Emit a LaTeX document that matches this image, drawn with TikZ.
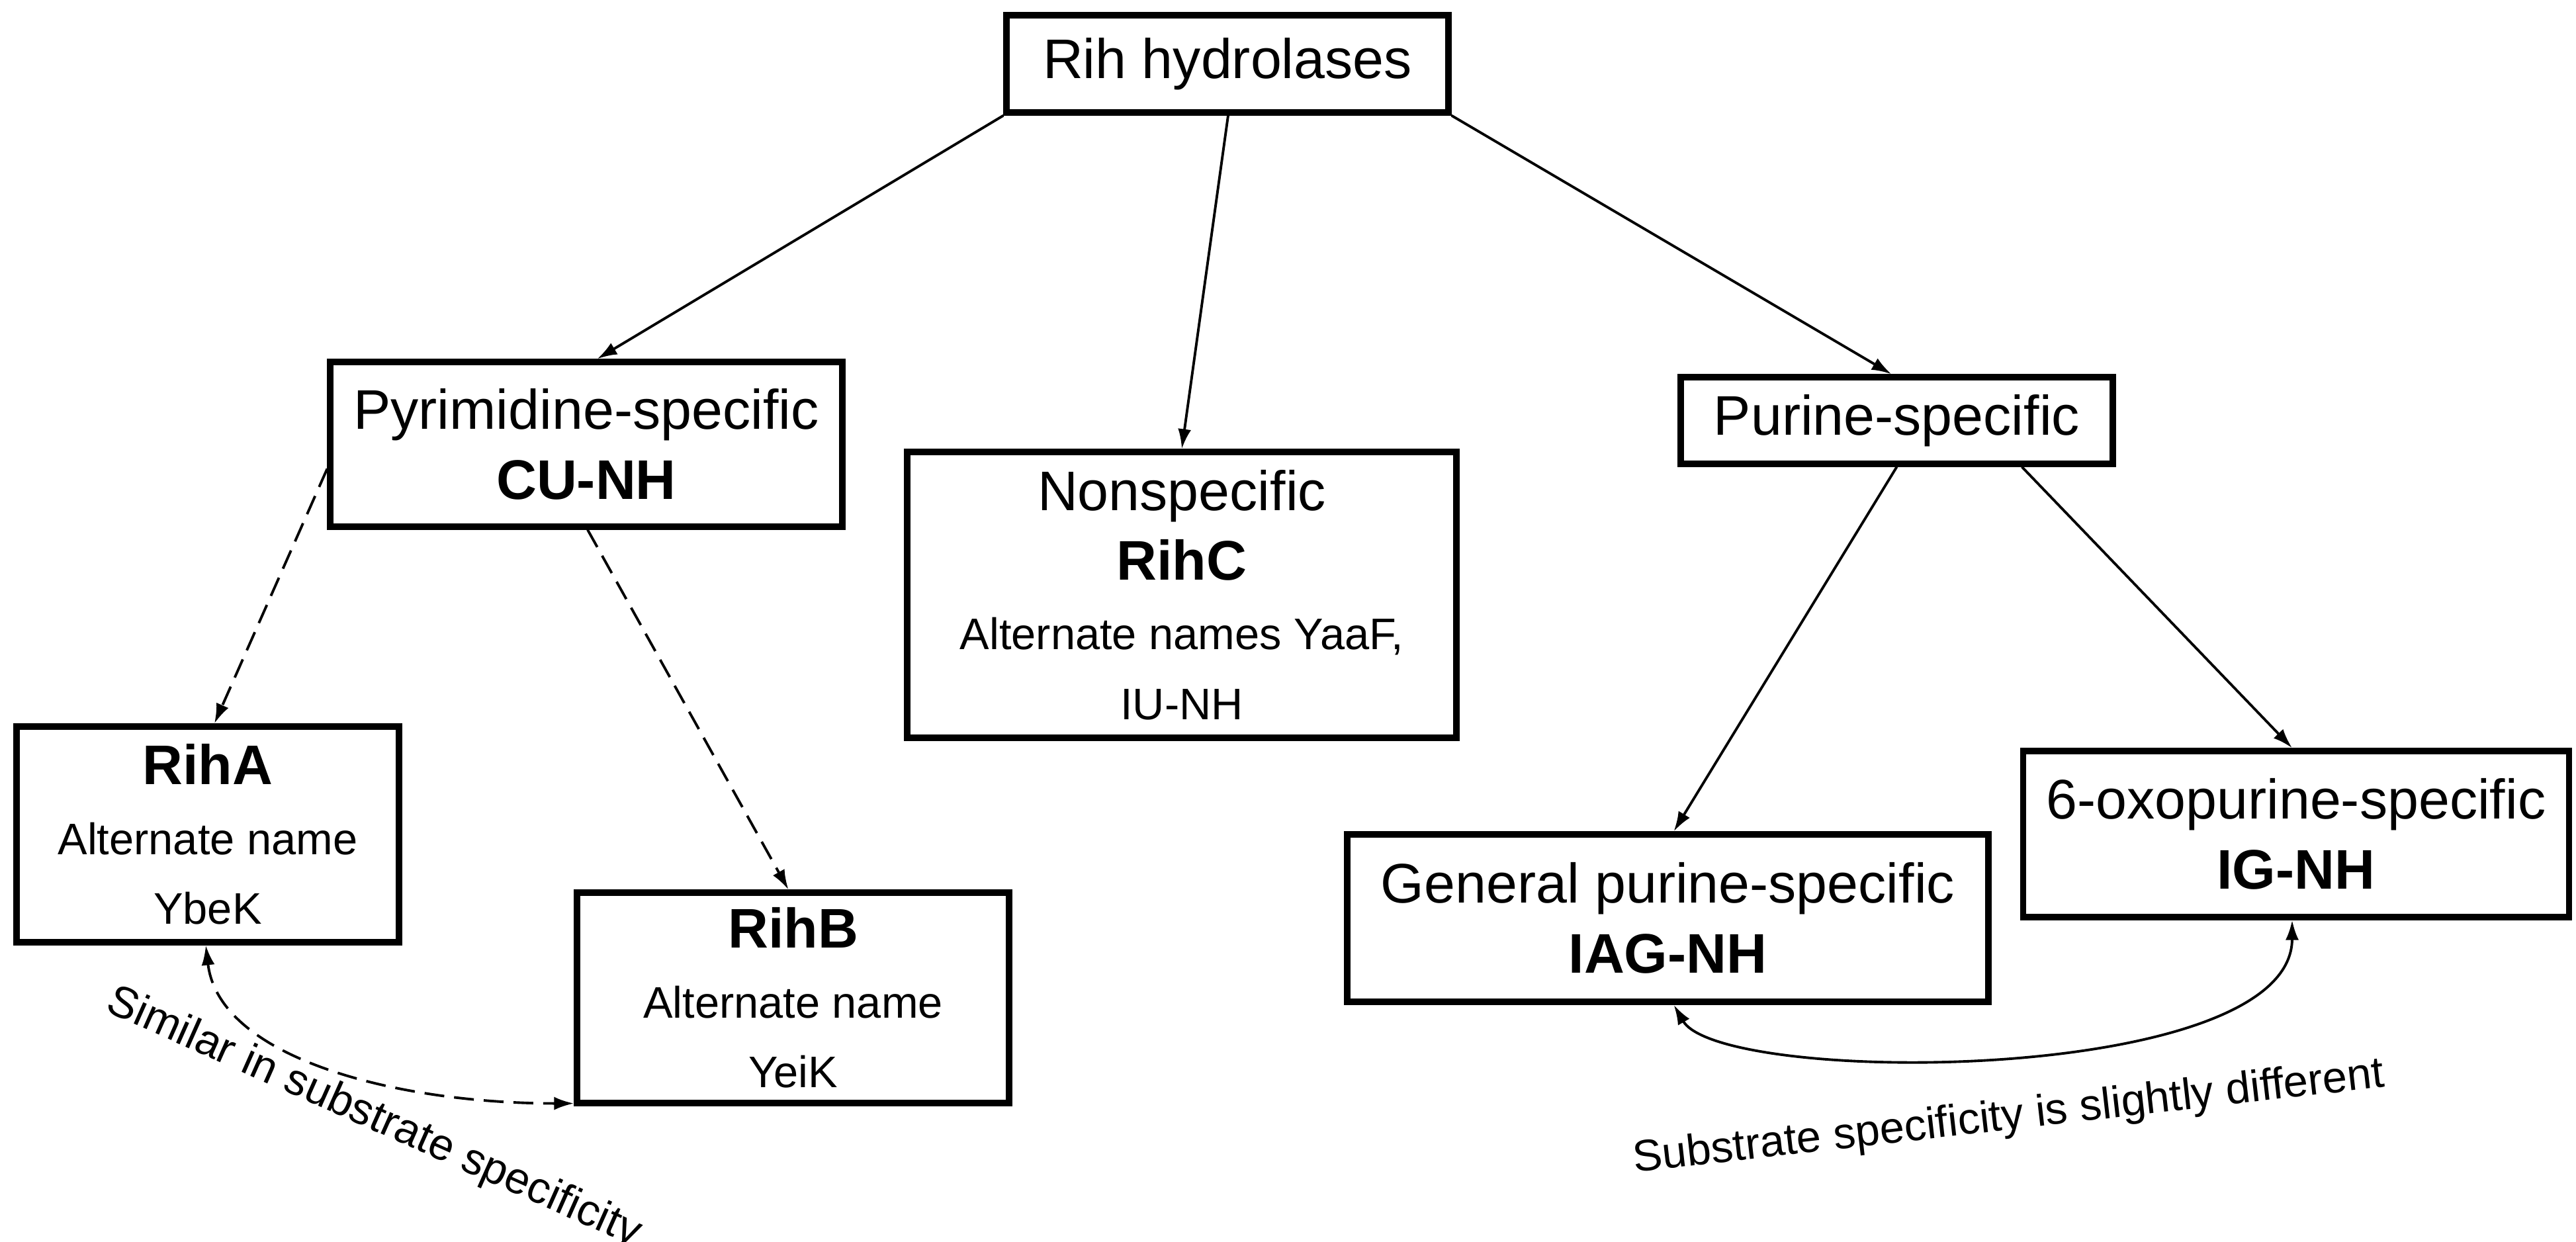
\documentclass[tikz,border=0pt]{standalone}
\usepackage{fontspec}
\setmainfont{Liberation Sans}
\usetikzlibrary{arrows.meta, positioning, calc}

\newcommand{\bigtxt}{\fontsize{24}{30}\selectfont}
\newcommand{\smalltxt}{\fontsize{19}{26}\selectfont}

\begin{document}
\begin{tikzpicture}[
  box/.style   = {draw, line width=2.6pt, inner sep=0pt, align=center, font=\bigtxt},
  arrow/.style = {line width=1.1pt, -{Latex[length=0.3cm, width=0.2cm]}},
  darrow/.style = {arrow, dash pattern=on 0.3cm off 0.15cm},
  both/.style  = {{Latex[length=0.3cm, width=0.2cm]}-{Latex[length=0.3cm, width=0.2cm]}},
  note/.style  = {font=\fontsize{19}{24}\selectfont}
]
  \useasboundingbox (0,0) rectangle (38.93,-18.77);

  % Top level
  \node[box, minimum width=6.68cm, minimum height=1.47cm] (rih) at (18.55,-0.965) {Rih hydrolases};

  % Second level
  \node[box, minimum width=7.74cm, minimum height=2.49cm] (pyr) at (8.86,-6.715)
    {Pyrimidine-specific\\ \textbf{CU-NH}};
  \node[box, minimum width=8.30cm, minimum height=4.32cm] (nonspec) at (17.86,-8.99)
    {Nonspecific\\ \textbf{RihC}\\ {\smalltxt Alternate names YaaF,}\\ {\smalltxt IU-NH}};
  \node[box, minimum width=6.53cm, minimum height=1.31cm] (pur) at (28.665,-6.355) {Purine-specific};

  % Third level
  \node[box, minimum width=5.78cm, minimum height=3.26cm] (rihA) at (3.14,-12.61)
    {\textbf{RihA}\\ {\smalltxt Alternate name}\\ {\smalltxt YbeK}};
  \node[box, minimum width=6.53cm, minimum height=3.18cm] (rihB) at (11.985,-15.08)
    {\textbf{RihB}\\ {\smalltxt Alternate name}\\ {\smalltxt YeiK}};
  \node[box, minimum width=9.69cm, minimum height=2.53cm] (gen) at (25.205,-13.875)
    {General purine-specific\\ \textbf{IAG-NH}};
  \node[box, minimum width=8.25cm, minimum height=2.51cm] (oxo) at (34.70,-12.605)
    {6-oxopurine-specific\\ \textbf{IG-NH}};

  % Connections
  \draw[arrow] (rih.south west) -- ([xshift=-3.75cm]pyr.north east);
  \draw[arrow] ([xshift=0.01cm]rih.south) -- (nonspec.north);
  \draw[arrow] (rih.south east) -- ([xshift=-0.08cm]pur.north);
  \draw[darrow] ([yshift=-0.37cm]pyr.west) -- ([xshift=0.1cm]rihA.north);
  \draw[darrow] ([xshift=0.02cm]pyr.south) -- ([xshift=-0.07cm]rihB.north);
  \draw[arrow] (pur.south) -- ([xshift=0.09cm]gen.north);
  \draw[arrow] ([xshift=-1.42cm]pur.south east) -- ([xshift=-0.06cm]oxo.north);

  % Relations
  \draw[darrow, both] ([xshift=-0.03cm]rihA.south)
    .. controls +(0.2,-1.7) and +(-2.7,0) .. ([yshift=0.04cm]rihB.south west);
  \draw[arrow, both] ([xshift=0.09cm]gen.south)
    .. controls +(0.71,-1.23) and +(0,-2.5) .. ([xshift=-0.06cm]oxo.south);

  \node[note, rotate=-24] (simlabel) at (5.65,-16.9) {Similar in substrate specificity};
  \node[note, rotate=6.5] (difflabel) at (30.36,-16.9) {Substrate specificity is slightly different};
\end{tikzpicture}
\end{document}
